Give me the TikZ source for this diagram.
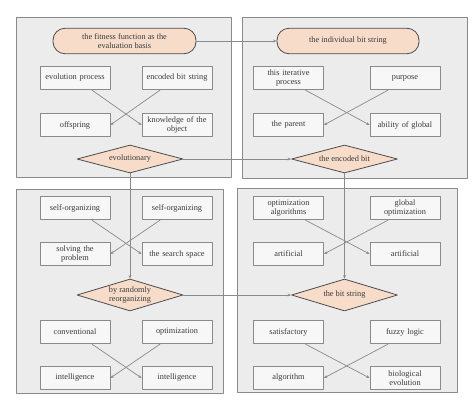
\documentclass[tikz,border=0pt]{standalone}
\usepackage{fontspec}
\setmainfont{Liberation Serif}
\usepackage{xcolor}
\usetikzlibrary{arrows.meta,shapes.geometric}
\definecolor{panelgray}{RGB}{236,236,236}
\definecolor{edgegray}{RGB}{138,138,138}
\definecolor{peach}{RGB}{247,220,202}
\definecolor{inkgray}{RGB}{58,58,58}
\tikzset{
  panel/.style={draw=edgegray,line width=1pt,fill=panelgray},
  procbox/.style={draw=edgegray,line width=0.8pt,fill=white!97!black,minimum width=70pt,minimum height=23.5pt,text width=64pt,align=center,inner sep=0pt,text=inkgray,font=\fontsize{8.3}{9.2}\selectfont},
  termbox/.style={draw=black!70,line width=0.8pt,fill=peach,rounded corners=12pt,minimum height=25.5pt,align=center,inner sep=0pt,text=inkgray,font=\fontsize{8.3}{9.2}\selectfont},
  decbox/.style={diamond,draw=black!70,line width=0.8pt,fill=peach,aspect=3.6,minimum width=106pt,minimum height=28pt,inner sep=0pt,align=center,text=inkgray,font=\fontsize{8.3}{9.2}\selectfont},
  conn/.style={draw=edgegray,line width=0.7pt,-{Stealth[length=3.5pt,width=2.8pt]}}
}
\begin{document}
\begin{tikzpicture}[line cap=round,line join=round,x=1pt,y=-1pt]
\useasboundingbox (0,0) rectangle (474,410);
% panels
\draw [panel] (16,17) rectangle (231,177);
\draw [panel] (242,17) rectangle (467,178);
\draw [panel] (16,189) rectangle (223,393);
\draw [panel] (237,188) rectangle (457,392);
% top left
\node [termbox,minimum width=143pt] (fit) at (124.5,41) {the fitness function as the\\evaluation basis};
\node [procbox] (evp) at (75,78) {evolution process};
\node [procbox] (ebs) at (177,78) {encoded bit string};
\node [procbox] (off) at (75,125) {offspring};
\node [procbox] (kno) at (177,125) {knowledge of the\\object};
\node [decbox] (evo) at (130,159) {evolutionary};
% top right
\node [termbox,minimum width=142pt] (ind) at (348,41) {the individual bit string};
\node [procbox] (itp) at (288.5,78) {this iterative\\process};
\node [procbox] (pur) at (405,78) {purpose};
\node [procbox] (par) at (288.5,125) {the parent};
\node [procbox] (abg) at (405,125) {ability of global};
\node [decbox] (enc) at (344.5,159) {the encoded bit};
% bottom left
\node [procbox] (so1) at (75,208) {self-organizing};
\node [procbox] (so2) at (177,208) {self-organizing};
\node [procbox] (slv) at (75,254) {solving the\\problem};
\node [procbox] (ssp) at (177,254) {the search space};
\node [decbox,minimum height=32pt,aspect=3.3] (rnd) at (130,295) {by randomly\\reorganizing};
\node [procbox] (cnv) at (75,332) {conventional};
\node [procbox] (opt) at (177,332) {optimization};
\node [procbox] (in1) at (75,378) {intelligence};
\node [procbox] (in2) at (177,378) {intelligence};
% bottom right
\node [procbox] (oal) at (288.5,208) {optimization\\algorithms};
\node [procbox] (gop) at (405,208) {global\\optimization};
\node [procbox] (ar1) at (288.5,254) {artificial};
\node [procbox] (ar2) at (405,254) {artificial};
\node [decbox,minimum height=32pt,aspect=3.3] (bst) at (344.5,295) {the bit string};
\node [procbox] (sat) at (288.5,332) {satisfactory};
\node [procbox] (fuz) at (405,332) {fuzzy logic};
\node [procbox] (alg) at (288.5,378) {algorithm};
\node [procbox] (bio) at (405,378) {biological\\evolution};
% links between panels
\draw [conn] (fit.east) -- (ind.west);
\draw [conn] (evo.east) -- (enc.west);
\draw [conn] (evo.south) -- (rnd.north);
\draw [conn] (enc.south) -- (bst.north);
\draw [conn] (rnd.east) -- (bst.west);
% crossing arrows
\draw [conn] ([xshift=17pt]evp.south) -- (kno.west);
\draw [conn] ([xshift=-17pt]ebs.south) -- (off.east);
\draw [conn] ([xshift=17pt]itp.south) -- (abg.west);
\draw [conn] ([xshift=-17pt]pur.south) -- (par.east);
\draw [conn] ([xshift=17pt]so1.south) -- (ssp.west);
\draw [conn] ([xshift=-17pt]so2.south) -- (slv.east);
\draw [conn] ([xshift=17pt]oal.south) -- (ar2.west);
\draw [conn] ([xshift=-17pt]gop.south) -- (ar1.east);
\draw [conn] ([xshift=17pt]cnv.south) -- (in2.west);
\draw [conn] ([xshift=-17pt]opt.south) -- (in1.east);
\draw [conn] ([xshift=17pt]sat.south) -- (bio.west);
\draw [conn] ([xshift=-17pt]fuz.south) -- (alg.east);
\end{tikzpicture}
\end{document}
